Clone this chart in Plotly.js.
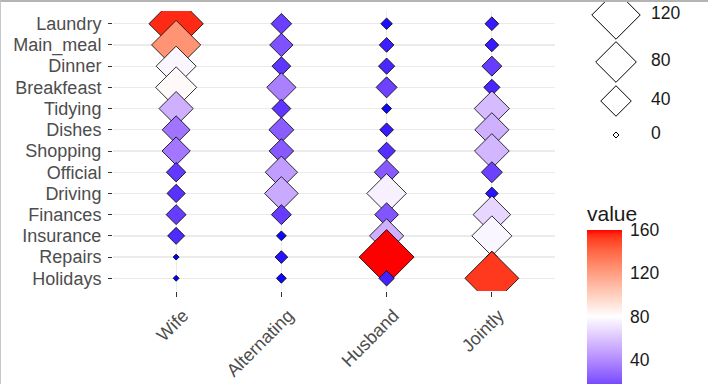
<!DOCTYPE html>
<html>
<head>
<meta charset="utf-8">
<script src="https://cdn.plot.ly/plotly-3.0.1.min.js"></script>
<style>
  html, body { margin: 0; padding: 0; background: #fff; }
  #chart { width: 708px; height: 384px; position: relative; }
  #frame { position: absolute; left: 0; top: 0; width: 708px; height: 384px;
           border-top: 2px solid #b4b4b4; border-left: 1px solid #c8c8c8;
           box-sizing: border-box; pointer-events: none; }
</style>
</head>
<body>
<div id="chart"></div>
<div id="frame"></div>
<script>
// ---- data (housetasks) ----
const tasks = ["Laundry","Main_meal","Dinner","Breakfeast","Tidying","Dishes","Shopping",
               "Official","Driving","Finances","Insurance","Repairs","Holidays"];
const who = ["Wife","Alternating","Husband","Jointly"];
const wife        = [156,124,77,82,53,32,33,12,10,13,8,0,0];
const alternating = [14,20,11,36,11,24,23,46,51,13,1,3,1];
const husband     = [2,5,7,15,1,4,9,23,75,21,53,160,6];
const jointly     = [4,4,13,7,57,53,55,15,3,66,77,2,153];
const sizeBreaks  = [0,40,80,120];
const colorTicks  = [40,80,120,160];

// ---- styling helpers ----
const VMAX = 160;
function diamondSize(v){ return (6 + 49*Math.sqrt(v/VMAX)) / 1.3; }

// Lab gradient blue -> white -> red (like scale_fill_gradient2)
const LAB_LOW  = [32.30, 79.19, -107.86];
const LAB_MID  = [100, 0, 0];
const LAB_HIGH = [53.24, 80.09, 67.20];
function lab2hex(L,a,b){
  let y=(L+16)/116, x=a/500+y, z=y-b/200;
  const f=t=>{const t3=t*t*t; return t3>0.008856?t3:(t-16/116)/7.787;};
  x=0.95047*f(x); y=1.0*f(y); z=1.08883*f(z);
  let r=x*3.2406+y*-1.5372+z*-0.4986;
  let g=x*-0.9689+y*1.8758+z*0.0415;
  let bb=x*0.0557+y*-0.2040+z*1.0570;
  const gm=c=>{c=c>0.0031308?1.055*Math.pow(c,1/2.4)-0.055:12.92*c;
               return Math.max(0,Math.min(255,Math.round(c*255)));};
  return "rgb("+gm(r)+","+gm(g)+","+gm(bb)+")";
}
const cscale=[];
const N=40;
for(let i=0;i<=N;i++){
  const t=i/N;
  let A,B,u;
  if(t<=0.5){A=LAB_LOW;B=LAB_MID;u=t/0.5;} else {A=LAB_MID;B=LAB_HIGH;u=(t-0.5)/0.5;}
  cscale.push([t, lab2hex(A[0]+(B[0]-A[0])*u, A[1]+(B[1]-A[1])*u, A[2]+(B[2]-A[2])*u)]);
}

// long format, column by column (later drawn on top)
const cols=[wife,alternating,husband,jointly];
const X=[],Y=[],V=[];
cols.forEach((arr,ci)=>arr.forEach((v,ri)=>{X.push(who[ci]);Y.push(tasks[ri]);V.push(v);}));

const FONT="Liberation Sans, Arial, sans-serif";

// layout geometry (pixels)
const W=708,H=384, ML=113, MT=11, MB=93;
const panelRight=555;
const paperW=W-ML, paperH=H-MT-MB;
const keyY=[135,101,62,15];   // pixel positions of size-legend keys
const keyX=616, keyLabelX=651;
const cbTop=202, cbLen=201;   // includes the title block

const main={
  type:"scatter", mode:"markers", x:X, y:Y,
  cliponaxis:true, hoverinfo:"skip",
  marker:{symbol:"diamond", size:V.map(diamondSize), color:V, opacity:1,
    colorscale:cscale, cmin:0, cmax:VMAX,
    line:{color:"#000", width:0.8},
    showscale:true,
    colorbar:{
      x:(587-ML)/paperW, xanchor:"left", xpad:0,
      y:(H-MB-cbTop)/paperH, yanchor:"top", ypad:0,
      len:cbLen, lenmode:"pixels", thickness:35, thicknessmode:"pixels",
      outlinewidth:0,
      tickvals:colorTicks, ticks:"outside", ticklen:5, tickcolor:"rgba(255,255,255,0)", tickwidth:1,
      tickfont:{family:FONT,size:17.5,color:"#1a1a1a"},
      title:{text:"value", side:"top", font:{family:FONT,size:21,color:"#1a1a1a"}}
    }
  },
  showlegend:false
};

const keys={
  type:"scatter", mode:"markers", xaxis:"x2", yaxis:"y2",
  x:sizeBreaks.map(()=>keyX), y:keyY, cliponaxis:false, hoverinfo:"skip",
  marker:{symbol:"diamond", size:sizeBreaks.map(diamondSize), color:"rgba(255,255,255,0)", opacity:1,
    line:{color:"#000", width:1}},
  showlegend:false
};
const keyLabels={
  type:"scatter", mode:"text", xaxis:"x2", yaxis:"y2",
  x:sizeBreaks.map(()=>keyLabelX), y:keyY, text:sizeBreaks.map(String),
  textposition:"middle right", cliponaxis:false, hoverinfo:"skip",
  textfont:{family:FONT,size:17.5,color:"#1a1a1a"},
  showlegend:false
};

const layout={
  width:W, height:H,
  margin:{l:ML, r:0, t:MT, b:MB, pad:0, autoexpand:false},
  paper_bgcolor:"#fff", plot_bgcolor:"#fff",
  font:{family:FONT},
  xaxis:{
    type:"category", categoryorder:"array", categoryarray:who,
    tickmode:"array", tickvals:who, ticktext:who,
    domain:[0,(panelRight-ML)/paperW], range:[-0.6,3.6], automargin:false,
    showgrid:true, gridcolor:"#ebebeb", gridwidth:1.1, zeroline:false, showline:false,
    ticks:"outside", ticklen:5, tickcolor:"#333", tickwidth:1,
    ticklabelshift:7, ticklabelstandoff:1,
    tickangle:-45, tickfont:{family:FONT,size:18,color:"#4d4d4d"}, fixedrange:true
  },
  yaxis:{
    type:"category", categoryorder:"array", categoryarray:tasks,
    tickmode:"array", tickvals:tasks, ticktext:tasks,
    range:[12.6,-0.6], automargin:false,
    showgrid:true, gridcolor:"#ebebeb", gridwidth:1.3, zeroline:false, showline:false,
    ticks:"outside", ticklen:4, tickcolor:"#333", tickwidth:1, ticklabelstandoff:3,
    tickfont:{family:FONT,size:18,color:"#4d4d4d"}, fixedrange:true
  },
  xaxis2:{domain:[0.8,1], range:[ML+0.8*paperW, W], visible:false, fixedrange:true, anchor:"y2", automargin:false},
  yaxis2:{domain:[0,1], range:[H-MB, MT], visible:false, fixedrange:true, anchor:"x2", automargin:false}
};

Plotly.newPlot("chart",[main,keys,keyLabels],layout,{displayModeBar:false,staticPlot:true});
</script>
</body>
</html>
